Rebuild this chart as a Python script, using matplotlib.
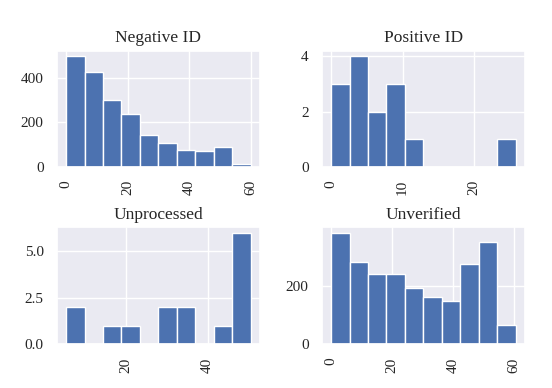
import numpy as np
import matplotlib
matplotlib.use("Agg")
import matplotlib.pyplot as plt
import seaborn as sns

# histogram counts (10 bins each)
titles = ["Negative ID", "Positive ID", "Unprocessed", "Unverified"]
ranges = [(0, 60), (0, 25.8), (5.3, 50.6), (0, 60.5)]
counts_neg = [497, 427, 301, 239, 142, 106, 77, 70, 91, 15]
counts_pos = [3, 4, 2, 3, 1, 0, 0, 0, 0, 1]
counts_unp = [2, 0, 1, 1, 0, 2, 2, 0, 1, 6]
counts_unv = [383, 284, 243, 240, 192, 161, 150, 275, 351, 65]
all_counts = [counts_neg, counts_pos, counts_unp, counts_unv]

xticks = [[0, 20, 40, 60], [0, 10, 20], [20, 40], [0, 20, 40, 60]]
yticks = [[0, 200, 400], [0, 2, 4], [0.0, 2.5, 5.0], [0, 200]]

sns.set_theme(style="darkgrid")
plt.rcParams['font.family'] = ['Liberation Serif', 'DejaVu Sans']

fig = plt.figure(figsize=(5.52, 3.88), dpi=100)
positions = [
    [0.103, 0.570, 0.368, 0.299],
    [0.583, 0.570, 0.368, 0.299],
    [0.103, 0.113, 0.368, 0.301],
    [0.583, 0.113, 0.368, 0.301],
]

for i in range(4):
    ax = fig.add_axes(positions[i])
    lo, hi = ranges[i]
    edges = np.linspace(lo, hi, 11)
    ax.hist(edges[:-1], bins=edges, weights=all_counts[i],
            color="#4c72b0", edgecolor="white", linewidth=1)
    ax.set_title(titles[i], fontsize=12.5)
    ax.set_xticks(xticks[i])
    ax.set_yticks(yticks[i])
    if i == 2:
        ax.set_yticklabels(["0.0", "2.5", "5.0"])
    ax.tick_params(axis="x", labelrotation=90, labelsize=11)
    ax.tick_params(axis="y", labelsize=11)

fig.savefig("out.png", dpi=100)
